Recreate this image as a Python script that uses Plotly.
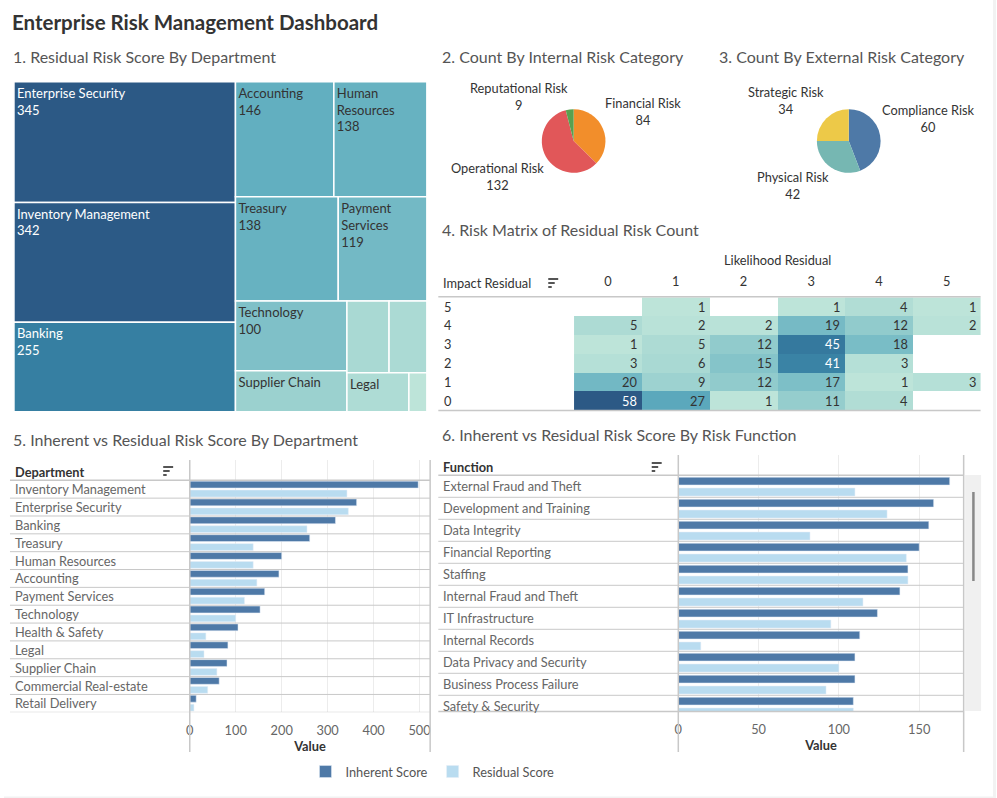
import plotly.graph_objects as go

W, H = 997, 798
def X(p): return p / W
def Y(p): return 1 - p / H

FONT = "Lato"
LSH = -4  # annotation left-padding compensation

# ---------------- DATA ----------------
dept_names = ["Enterprise Security", "Inventory Management", "Banking", "Accounting",
              "Human Resources", "Treasury", "Payment Services", "Technology",
              "Supplier Chain", "Commercial Real-estate", "Health & Safety", "Legal",
              "Retail Delivery"]
dept_residual = [345, 342, 255, 146, 138, 138, 119, 100, 59, 39, 35, 31, 9]

internal_cats = ["Financial Risk", "Operational Risk", "Reputational Risk"]
internal_counts = [84, 132, 9]
external_cats = ["Compliance Risk", "Physical Risk", "Strategic Risk"]
external_counts = [60, 42, 34]

likelihood_levels = [0, 1, 2, 3, 4, 5]
impact_levels = [0, 1, 2, 3, 4, 5]
risk_matrix = [  # rows: impact 0..5 ; columns: likelihood 0..5
    [58, 27, 1, 11, 4, None],
    [20, 9, 12, 17, 1, 3],
    [3, 6, 15, 41, 3, None],
    [1, 5, 12, 45, 18, None],
    [5, 2, 2, 19, 12, 2],
    [None, 1, None, 1, 4, 1],
]

bar_depts = ["Inventory Management", "Enterprise Security", "Banking", "Treasury",
             "Human Resources", "Accounting", "Payment Services", "Technology",
             "Health & Safety", "Legal", "Supplier Chain", "Commercial Real-estate",
             "Retail Delivery"]
bar_dept_inherent = [497, 363, 317, 261, 200, 194, 163, 153, 105, 83, 81, 64, 14]
bar_dept_residual = [342, 345, 255, 138, 138, 146, 119, 100, 35, 31, 59, 39, 9]

functions = ["External Fraud and Theft", "Development and Training", "Data Integrity",
             "Financial Reporting", "Staffing", "Internal Fraud and Theft",
             "IT Infrastructure", "Internal Records", "Data Privacy and Security",
             "Business Process Failure", "Safety & Security"]
func_inherent = [169, 159, 156, 150, 143, 138, 124, 113, 110, 110, 109]
func_residual = [110, 130, 82, 142, 143, 115, 95, 14, 100, 92, 109]

dept_ticks = [0, 100, 200, 300, 400, 500]
func_ticks = [0, 50, 100, 150]

# ---------------- STYLE ----------------
blue_teal = [[0, "#bde4d9"], [0.149, "#9bd1cf"], [0.271, "#7fc0c8"],
             [0.408, "#62afc0"], [0.732, "#367fa2"], [1, "#2c5985"]]
internal_colors = ["#f28e2b", "#e15759", "#59a14f"]
external_colors = ["#4e79a7", "#76b7b2", "#edc948"]
INH = "#4e79a7"
RES = "#b9dcf0"
LINE = "#c8c8c8"
LBL = 12.8

fig = go.Figure()

# ---------- 1. Treemap ----------
wrap = {"Human Resources": "Human<br>Resources", "Payment Services": "Payment<br>Services"}
name_only = {"Supplier Chain", "Legal"}
tm_text = []
for n, v in zip(dept_names, dept_residual):
    lab = wrap.get(n, n)
    tm_text.append(lab if n in name_only else f"{lab}<br>{v}")
tm_textcolor = ["white" if v > 200 else "#333333" for v in dept_residual]

fig.add_trace(go.Treemap(
    labels=dept_names, parents=[""] * len(dept_names), values=dept_residual,
    text=tm_text, textinfo="text", textposition="top left",
    textfont=dict(family=FONT, size=13, color=tm_textcolor),
    marker=dict(colors=dept_residual, colorscale=blue_teal, cmin=9, cmax=345,
                line=dict(color="white", width=1.5), pad=dict(t=0, l=0, r=0, b=0)),
    tiling=dict(squarifyratio=1.618, pad=0),
    pathbar=dict(visible=False), sort=True,
    domain=dict(x=[X(10), X(425)], y=[Y(411.7), Y(81.7)]),
    hoverinfo="label+value",
))

# ---------- 2 & 3. Pies ----------
fig.add_trace(go.Pie(
    values=internal_counts, labels=internal_cats, sort=False, direction="clockwise",
    rotation=0, textinfo="none", marker=dict(colors=internal_colors),
    domain=dict(x=[X(540.5), X(604.5)], y=[Y(173), Y(109)]), showlegend=False,
))
fig.add_trace(go.Pie(
    values=external_counts, labels=external_cats, sort=False, direction="clockwise",
    rotation=0, textinfo="none", marker=dict(colors=external_colors),
    domain=dict(x=[X(817), X(881)], y=[Y(173), Y(109)]), showlegend=False,
))

# ---------- 4. Heatmap ----------
fig.add_trace(go.Heatmap(
    z=risk_matrix, x=likelihood_levels, y=impact_levels, colorscale=blue_teal,
    zmin=1, zmax=58, showscale=False, xaxis="x3", yaxis="y3", hoverongaps=False,
))

# ---------- 5. Bars by department ----------
fig.add_trace(go.Bar(
    y=bar_depts, x=bar_dept_inherent, orientation="h", name="Inherent Score",
    marker_color=INH, width=0.38, offset=-0.45, xaxis="x5", yaxis="y5",
    legendgroup="inh", showlegend=True,
))
fig.add_trace(go.Bar(
    y=bar_depts, x=bar_dept_residual, orientation="h", name="Residual Score",
    marker_color=RES, width=0.38, offset=0.05, xaxis="x5", yaxis="y5",
    legendgroup="res", showlegend=True,
))

# ---------- 6. Bars by function ----------
fig.add_trace(go.Bar(
    y=functions, x=func_inherent, orientation="h", name="Inherent Score",
    marker_color=INH, width=0.35, offset=-0.41, xaxis="x6", yaxis="y6",
    legendgroup="inh", showlegend=False,
))
fig.add_trace(go.Bar(
    y=functions, x=func_residual, orientation="h", name="Residual Score",
    marker_color=RES, width=0.36, offset=0.08, xaxis="x6", yaxis="y6",
    legendgroup="res", showlegend=False,
))

ann = []
shapes = []

def text(x, y, s, size=LBL, color="#333333", anchor="left"):
    ann.append(dict(x=X(x), y=Y(y), xref="paper", yref="paper", text=s, showarrow=False,
                    xanchor=anchor, yanchor="middle", xshift=LSH if anchor == "left" else 0,
                    font=dict(family=FONT, size=size, color=color)))

def pline(x0, y0, x1, y1, color=LINE, width=1):
    shapes.append(dict(type="line", xref="paper", yref="paper", x0=X(x0), y0=Y(y0),
                       x1=X(x1), y1=Y(y1), line=dict(color=color, width=width)))

def sort_icon(x, y):
    for dy, ln in [(-4, 10), (0, 6.5), (4, 3.5)]:
        pline(x, y + dy, x + ln, y + dy, color="#555555", width=2)

# titles
text(10, 22, "<b>Enterprise Risk Management Dashboard</b>", size=20.5, color="#333333")
text(11, 56, "1. Residual Risk Score By Department", size=16, color="#555555")
text(442, 57, "2. Count By Internal Risk Category", size=16, color="#555555")
text(721, 57, "3. Count By External Risk Category", size=16, color="#555555")
text(442, 229, "4. Risk Matrix of Residual Risk Count", size=16, color="#555555")
text(11, 439, "5. Inherent vs Residual Risk Score By Department", size=16, color="#555555")
text(442, 434, "6. Inherent vs Residual Risk Score By Risk Function", size=16, color="#555555")

# pie labels
pie_label_pos = {
    "Reputational Risk": (518, 96), "Financial Risk": (642, 111), "Operational Risk": (496, 176),
    "Strategic Risk": (786, 100), "Compliance Risk": (929, 118), "Physical Risk": (793, 186),
}
for cats, counts in [(internal_cats, internal_counts), (external_cats, external_counts)]:
    for c, v in zip(cats, counts):
        px_, py_ = pie_label_pos[c]
        text(px_, py_, f"{c}<br>{v}", color="#333333", anchor="center")

# matrix labels
text(777, 260, "Likelihood Residual", color="#333333", anchor="center")
text(443.7, 283, "Impact Residual", color="#333333")
sort_icon(547, 283)
for i in impact_levels:
    ann.append(dict(x=X(444), y=i, xref="paper", yref="y3", text=str(i), showarrow=False,
                    xanchor="left", yanchor="middle", xshift=LSH,
                    font=dict(family=FONT, size=LBL, color="#333333")))
for i, row in enumerate(risk_matrix):
    for j, v in enumerate(row):
        if v is None:
            continue
        ann.append(dict(x=likelihood_levels[j] + 0.5, y=impact_levels[i], xref="x3", yref="y3",
                        text=str(v), showarrow=False, xanchor="right", yanchor="middle", xshift=-3,
                        font=dict(family=FONT, size=LBL, color="white" if v >= 40 else "#333333")))
pline(436.5, 296.7, 981.5, 296.7, width=1.5)
pline(436.5, 410.5, 981.5, 410.5, width=1.5)

# chart 5 labels and lines
text(12.7, 472, "<b>Department</b>", color="#333333")
sort_icon(160, 471)
for d in bar_depts:
    ann.append(dict(x=X(12.7), y=d, xref="paper", yref="y5", text=d, showarrow=False,
                    xanchor="left", yanchor="middle", xshift=LSH,
                    font=dict(family=FONT, size=LBL, color="#666666")))
for k in range(len(bar_depts) + 1):
    shapes.append(dict(type="line", xref="paper", yref="y5", x0=X(6), x1=X(428.3),
                       y0=k - 0.5, y1=k - 0.5, line=dict(color=LINE, width=1.5 if k == 0 else 1)))
pline(186.7, 460, 186.7, 752, width=1.5)
pline(428.3, 460, 428.3, 752, width=1.5)

# chart 6 labels and lines
text(443, 467, "<b>Function</b>", color="#333333")
sort_icon(651, 467)
for f in functions:
    ann.append(dict(x=X(443), y=f, xref="paper", yref="y6", text=f, showarrow=False,
                    xanchor="left", yanchor="middle", xshift=LSH,
                    font=dict(family=FONT, size=LBL, color="#666666")))
for k in range(len(functions)):
    shapes.append(dict(type="line", xref="paper", yref="y6", x0=X(436.5), x1=X(964.5),
                       y0=k - 0.5, y1=k - 0.5, line=dict(color=LINE, width=1.5 if k == 0 else 1)))
pline(436.5, 711.5, 964.5, 711.5, width=1.5)
pline(677.7, 455, 677.7, 752, width=1.5)
pline(964.5, 455, 964.5, 752, width=1.5)
# scrollbar
shapes.append(dict(type="rect", xref="paper", yref="paper", x0=X(966), x1=X(982), y0=Y(711), y1=Y(475),
                   fillcolor="#f0f0f0", line=dict(width=0), layer="below"))
pline(974.3, 492, 974.3, 581, color="#888888", width=2.5)
# outer border strips
shapes.append(dict(type="rect", xref="paper", yref="paper", x0=X(994), x1=1, y0=0, y1=1,
                   fillcolor="#f2f2f2", line=dict(width=0)))
shapes.append(dict(type="rect", xref="paper", yref="paper", x0=0, x1=1, y0=0, y1=Y(796.5),
                   fillcolor="#f2f2f2", line=dict(width=0)))

axis_common = dict(showline=False, zeroline=False,
                   tickfont=dict(family=FONT, size=LBL, color="#666666"))

fig.update_layout(
    width=W, height=H, margin=dict(l=0, r=0, t=0, b=0),
    paper_bgcolor="white", plot_bgcolor="white",
    font=dict(family=FONT, size=12, color="#333333"),
    barmode="overlay",
    uniformtext=dict(minsize=12, mode="hide"),
    xaxis3=dict(domain=[X(572.9), X(981.5)], range=[-0.5, 5.5], anchor="y3", side="top",
                tickvals=likelihood_levels, ticks="outside", ticklen=5, tickcolor="rgba(0,0,0,0)",
                showgrid=False, showline=False, zeroline=False,
                tickfont=dict(family=FONT, size=LBL, color="#333333")),
    yaxis3=dict(domain=[Y(410), Y(297.3)], range=[-0.5, 5.5], anchor="x3",
                showticklabels=False, showgrid=False, zeroline=False, ticks=""),
    xaxis5=dict(domain=[X(186.7), X(428.3)], range=[0, 523], anchor="y5",
                tickvals=dept_ticks, ticks="outside", ticklen=6, tickcolor="rgba(0,0,0,0)",
                showgrid=True, gridcolor="#ececec", gridwidth=1,
                title=dict(text="<b>Value</b>", standoff=3,
                           font=dict(family=FONT, size=LBL, color="#333333")),
                **axis_common),
    yaxis5=dict(domain=[Y(712.3), Y(460)], range=[12.5, -1.637], anchor="x5",
                type="category", categoryarray=bar_depts, categoryorder="array",
                showticklabels=False, showgrid=False, zeroline=False, ticks=""),
    xaxis6=dict(domain=[X(677.7), X(964.5)], range=[0, 177.7], anchor="y6",
                tickvals=func_ticks, ticks="outside", ticklen=6, tickcolor="rgba(0,0,0,0)",
                showgrid=True, gridcolor="#ececec", gridwidth=1,
                title=dict(text="<b>Value</b>", standoff=3,
                           font=dict(family=FONT, size=LBL, color="#333333")),
                **axis_common),
    yaxis6=dict(domain=[Y(711.3), Y(455)], range=[10.227, -1.423], anchor="x6",
                type="category", categoryarray=functions, categoryorder="array",
                showticklabels=False, showgrid=False, zeroline=False, ticks=""),
    legend=dict(orientation="h", x=X(303), y=Y(771.7), xanchor="left", yanchor="middle",
                font=dict(family=FONT, size=LBL, color="#555555"), itemwidth=30,
                bgcolor="rgba(0,0,0,0)", traceorder="normal"),
    annotations=ann, shapes=shapes,
)

fig.write_html("out.html")
